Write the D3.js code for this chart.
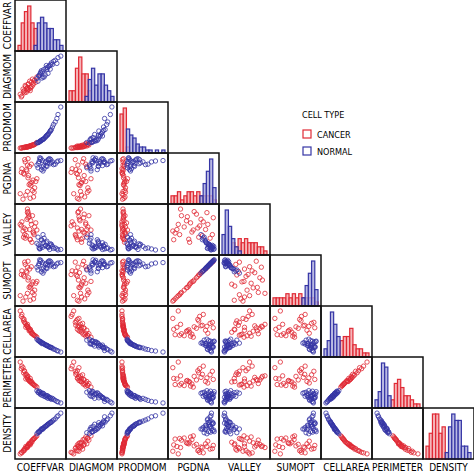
<!DOCTYPE html><html><head><meta charset="utf-8">
<script src="https://cdn.jsdelivr.net/npm/d3@7"></script>
<style>body{margin:0;background:#fff}text{font-family:"Liberation Sans Narrow","DejaVu Sans Condensed",Arial,sans-serif}</style></head><body>
<svg id="c" width="474" height="475"></svg>
<script>
const variables=["COEFFVAR","DIAGMOM","PRODMOM","PGDNA","VALLEY","SUMOPT","CELLAREA","PERIMETER","DENSITY"];
const groups=["CANCER","NORMAL"];
const group=[...Array(30).fill("CANCER"),...Array(30).fill("NORMAL")];
const COEFFVAR=[22,28,18,32,25,35,15,30,27,20,38,24,33,12,29,26,36,21,31,19,34,23,40,17,26,30,14,37,25,42,
45,52,60,48,70,55,65,42,58,75,50,62,68,47,80,54,63,44,57,72,49,66,53,85,59,46,67,51,61,78];
const DIAGMOM=[30,25,20,38,28,33,12,22,35,18,42,26,30,15,40,24,36,32,27,22,44,19,38,25,34,29,10,41,23,48,
50,58,62,55,72,48,70,45,65,80,60,55,75,52,85,62,68,40,52,78,57,63,48,88,70,50,72,46,66,74];
const PRODMOM=[5,6,4,8,5,9,3,7,6,4,10,5,8,3,7,6,9,5,7,4,9,5,12,4,6,7,3,10,5,14,
14,20,28,17,45,22,35,13,26,55,18,30,40,16,70,21,32,14,24,50,17,37,20,85,27,15,38,19,29,62];
const PGDNA=[12,35,60,80,20,45,70,5,55,90,28,65,40,15,75,50,8,85,33,58,22,68,42,3,92,38,62,18,78,48,
82,88,75,90,85,70,92,78,86,80,68,89,83,94,87,76,91,72,84,79,93,81,65,88,77,86,90,74,82,85];
const VALLEY=[45,70,30,55,85,40,60,25,75,35,50,65,20,55,45,80,38,28,62,48,72,33,58,42,68,26,52,35,78,44,
15,10,22,8,12,28,6,18,14,9,25,11,16,7,5,20,10,30,13,8,12,17,35,6,19,9,14,24,11,7];
const SUMOPT=[13,34,61,79,21,46,70,6,55,89,28,66,41,16,74,50,9,84,33,58,23,69,43,4,91,37,62,18,78,47,
82,88,75,90,85,70,92,78,86,80,68,89,83,94,87,76,91,72,84,79,93,81,65,88,77,86,90,74,82,85];
const CELLAREA=[62,55,75,50,68,48,88,58,60,72,45,65,52,95,56,63,47,70,54,78,49,66,44,80,61,57,84,46,64,42,
35,30,25,32,20,28,22,38,26,17,31,24,21,34,14,29,23,36,27,18,33,22,30,12,26,34,21,29,25,15];
const PERIMETER=[60,57,72,52,66,50,85,61,58,75,47,63,54,93,55,65,49,68,56,76,51,69,46,82,59,55,80,48,62,44,
33,31,27,30,22,26,24,37,28,18,33,22,20,35,15,31,25,34,26,20,31,23,32,13,24,36,22,28,27,16];
const DENSITY=[22,28,15,32,20,35,10,25,26,18,38,21,30,8,27,23,36,17,29,14,34,20,40,13,24,27,11,37,22,42,
50,56,62,52,70,58,66,46,60,74,55,64,68,50,80,57,65,48,60,72,53,67,55,85,61,49,68,54,63,78];
const cols={COEFFVAR,DIAGMOM,PRODMOM,PGDNA,VALLEY,SUMOPT,CELLAREA,PERIMETER,DENSITY};
const stroke={CANCER:"#e02a35",NORMAL:"#3535a5"}, fill={CANCER:"#f3a3a8",NORMAL:"#a9a9dc"};
const svg=d3.select("#c"), x0=15, S=51, n=variables.length;
const sc={};
variables.forEach(v=>{sc[v]=d3.scaleLinear().domain([d3.min(cols[v])-4,d3.max(cols[v])+4]).range([3,S-3]);});
variables.forEach((vy,i)=>{
  for(let j=0;j<=i;j++){
    const vx=variables[j];
    const g=svg.append("g").attr("transform",`translate(${x0+j*S},${i*S})`);
    if(i===j){
      const [a,b]=sc[vx].domain();
      const bins=d3.bin().domain([a,b]).thresholds(d3.range(a,b,(b-a)/14));
      const bg={};let mx=0;
      groups.forEach(gr=>{bg[gr]=bins(cols[vx].filter((d,k)=>group[k]===gr));mx=Math.max(mx,d3.max(bg[gr],b=>b.length));});
      const y=d3.scaleLinear().domain([0,mx]).range([S,6]);
      groups.forEach(gr=>{
        g.selectAll(null).data(bg[gr].filter(b=>b.length)).join("rect")
          .attr("x",b=>sc[vx](b.x0)).attr("width",b=>sc[vx](b.x1)-sc[vx](b.x0))
          .attr("y",b=>y(b.length)).attr("height",b=>S-y(b.length))
          .attr("fill",fill[gr]).attr("fill-opacity",0.8).attr("stroke",stroke[gr]).attr("stroke-width",1.2);
      });
    } else {
      const yS=sc[vy].copy().range([S-3,3]);
      g.selectAll("circle").data(d3.range(group.length)).join("circle")
        .attr("cx",k=>sc[vx](cols[vx][k])).attr("cy",k=>yS(cols[vy][k])).attr("r",2.2)
        .attr("fill","none").attr("stroke",k=>stroke[group[k]]).attr("stroke-width",0.8);
    }
    g.append("rect").attr("width",S).attr("height",S).attr("fill","none").attr("stroke","#111").attr("stroke-width",1.5);
  }
  svg.append("text").attr("transform",`translate(11,${i*S+S/2}) rotate(-90)`).attr("text-anchor","middle")
    .attr("font-size",10).text(vy);
  svg.append("text").attr("x",x0+i*S+S/2).attr("y",471).attr("text-anchor","middle").attr("font-size",10).text(vy);
});
const lg=svg.append("g").attr("transform","translate(302,112)");
lg.append("text").attr("x",0).attr("y",6).attr("font-size",9).text("CELL TYPE");
groups.forEach((gr,k)=>{
  lg.append("rect").attr("x",1).attr("y",18+k*17).attr("width",8).attr("height",8).attr("fill","none").attr("stroke",stroke[gr]).attr("stroke-width",1.2);
  lg.append("text").attr("x",15).attr("y",26+k*17).attr("font-size",9).text(gr);
});
</script></body></html>
